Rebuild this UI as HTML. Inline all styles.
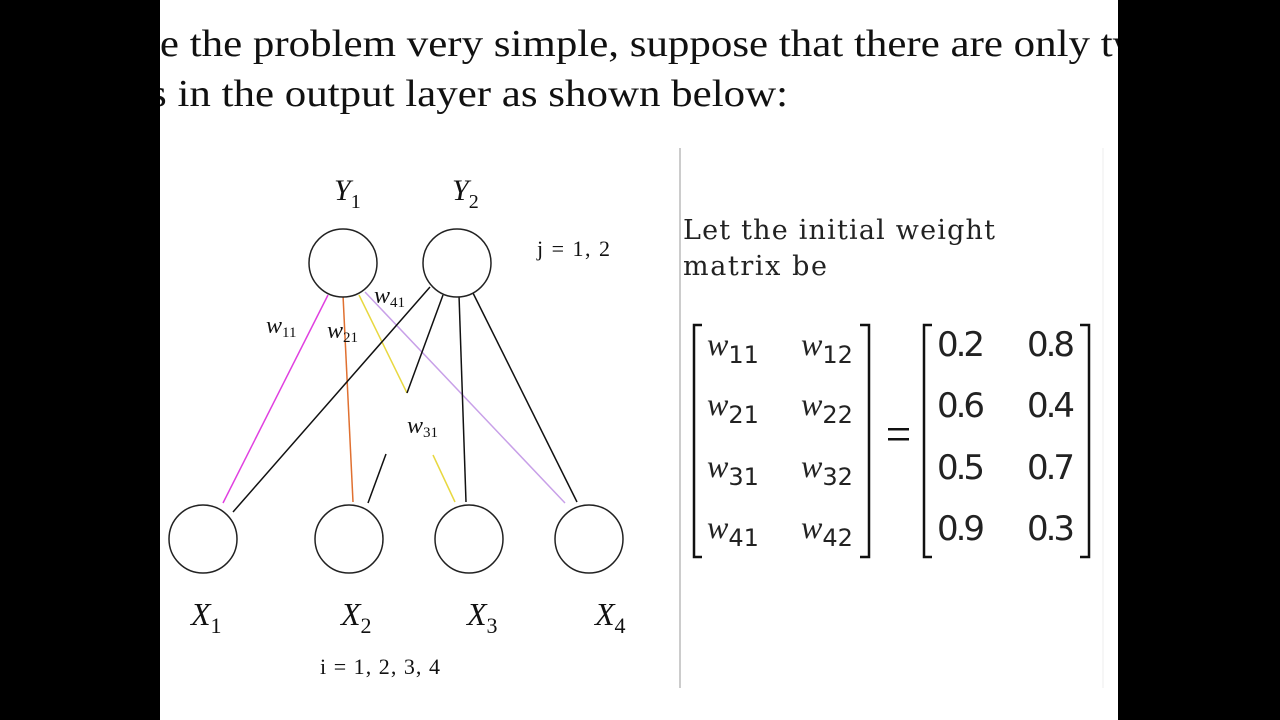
<!DOCTYPE html>
<html><head><meta charset="utf-8"><style>
body{margin:0;width:1280px;height:720px;background:#000;overflow:hidden;position:relative}
#w{position:absolute;left:160px;top:0;width:958px;height:720px;background:#fff}
.t{position:absolute;font-family:"Liberation Serif",serif;font-size:38px;color:#111;white-space:nowrap;transform-origin:0 0;transform:scaleX(1.13)}
svg{position:absolute;left:0;top:0}
</style></head><body>
<div id="w"></div>
<div class="t" style="left:148px;top:22px;">te the problem very simple, suppose that there are only tw</div>
<div class="t" style="left:150px;top:72px;">s in the output layer as shown below:</div>
<svg width="1280" height="720" viewBox="0 0 1280 720">
<rect x="0" y="0" width="160" height="720" fill="#000"/>
<rect x="1118" y="0" width="162" height="720" fill="#000"/>
<line x1="680" y1="148" x2="680" y2="688" stroke="#bbb" stroke-width="1.5"/>
<line x1="1103" y1="148" x2="1103" y2="688" stroke="#eee" stroke-width="1"/>
<g fill="none" stroke-width="1.5">
<line x1="328" y1="295" x2="223" y2="503" stroke="#e040e0"/>
<line x1="343" y1="295" x2="353" y2="502" stroke="#e07030"/>
<polyline points="359,295 407,393" stroke="#e8d840"/>
<line x1="433" y1="455" x2="455" y2="502" stroke="#e8d840"/>
<line x1="365" y1="292" x2="565" y2="503" stroke="#c8a0e8"/>
<line x1="430" y1="287" x2="233" y2="512" stroke="#111"/>
<line x1="443" y1="295" x2="407" y2="393" stroke="#111"/>
<line x1="386" y1="454" x2="368" y2="503" stroke="#111"/>
<line x1="459" y1="295" x2="466" y2="502" stroke="#111"/>
<line x1="473" y1="293" x2="577" y2="502" stroke="#111"/>
</g>
<g fill="#fff" stroke="#222" stroke-width="1.5">
<circle cx="343" cy="263" r="34"/><circle cx="457" cy="263" r="34"/>
<circle cx="203" cy="539" r="34"/><circle cx="349" cy="539" r="34"/>
<circle cx="469" cy="539" r="34"/><circle cx="589" cy="539" r="34"/>
</g>
<g font-family="Liberation Serif,serif" fill="#111">
<text x="334" y="200" font-size="30" font-style="italic">Y<tspan font-size="20" font-style="normal" dy="8">1</tspan></text>
<text x="452" y="200" font-size="30" font-style="italic">Y<tspan font-size="20" font-style="normal" dy="8">2</tspan></text>
<text x="191" y="625" font-size="32" font-style="italic">X<tspan font-size="22" font-style="normal" dy="8">1</tspan></text>
<text x="341" y="625" font-size="32" font-style="italic">X<tspan font-size="22" font-style="normal" dy="8">2</tspan></text>
<text x="467" y="625" font-size="32" font-style="italic">X<tspan font-size="22" font-style="normal" dy="8">3</tspan></text>
<text x="595" y="625" font-size="32" font-style="italic">X<tspan font-size="22" font-style="normal" dy="8">4</tspan></text>
<text x="537" y="256" font-size="22" textLength="73">j = 1, 2</text>
<text x="320" y="674" font-size="22" textLength="120">i = 1, 2, 3, 4</text>
<text x="266" y="333" font-size="24" font-style="italic">w<tspan font-size="15" font-style="normal" dy="4">11</tspan></text>
<text x="327" y="338" font-size="24" font-style="italic">w<tspan font-size="15" font-style="normal" dy="4">21</tspan></text>
<text x="374" y="303" font-size="24" font-style="italic">w<tspan font-size="15" font-style="normal" dy="4">41</tspan></text>
<text x="407" y="433" font-size="24" font-style="italic">w<tspan font-size="15" font-style="normal" dy="4">31</tspan></text>
</g>
<g font-family="DejaVu Serif,serif" fill="#222" font-size="27">
<text x="683" y="239" textLength="312">Let the initial weight</text>
<text x="683" y="275" textLength="144">matrix be</text>
</g>
<g fill="none" stroke="#111" stroke-width="2.5">
<polyline points="702,325 694,325 694,557 702,557"/>
<polyline points="860,325 869,325 869,557 860,557"/>
<polyline points="932,325 924,325 924,557 932,557"/>
<polyline points="1080,325 1089,325 1089,557 1080,557"/>
</g>
<rect x="888" y="428" width="21" height="2.5" fill="#111"/>
<rect x="888" y="438" width="21" height="2.5" fill="#111"/>
<g font-family="Liberation Serif,serif" font-style="italic" font-size="32" fill="#222">
<text x="707" y="355">w<tspan font-style="normal" font-family="DejaVu Sans,sans-serif" font-size="24" dy="8">11</tspan></text>
<text x="801" y="355">w<tspan font-style="normal" font-family="DejaVu Sans,sans-serif" font-size="24" dy="8">12</tspan></text>
<text x="707" y="415">w<tspan font-style="normal" font-family="DejaVu Sans,sans-serif" font-size="24" dy="8">21</tspan></text>
<text x="801" y="415">w<tspan font-style="normal" font-family="DejaVu Sans,sans-serif" font-size="24" dy="8">22</tspan></text>
<text x="707" y="477">w<tspan font-style="normal" font-family="DejaVu Sans,sans-serif" font-size="24" dy="8">31</tspan></text>
<text x="801" y="477">w<tspan font-style="normal" font-family="DejaVu Sans,sans-serif" font-size="24" dy="8">32</tspan></text>
<text x="707" y="538">w<tspan font-style="normal" font-family="DejaVu Sans,sans-serif" font-size="24" dy="8">41</tspan></text>
<text x="801" y="538">w<tspan font-style="normal" font-family="DejaVu Sans,sans-serif" font-size="24" dy="8">42</tspan></text>
</g>
<g font-family="DejaVu Sans,sans-serif" font-size="34" fill="#222">
<text x="937" y="356" textLength="48">0.2</text><text x="1027" y="356" textLength="48">0.8</text>
<text x="937" y="417" textLength="48">0.6</text><text x="1027" y="417" textLength="48">0.4</text>
<text x="937" y="479" textLength="48">0.5</text><text x="1027" y="479" textLength="48">0.7</text>
<text x="937" y="540" textLength="48">0.9</text><text x="1027" y="540" textLength="48">0.3</text>
</g>
</svg>
</body></html>
